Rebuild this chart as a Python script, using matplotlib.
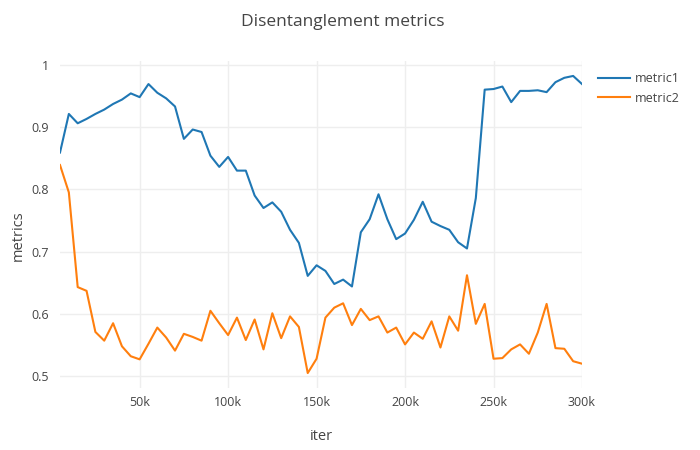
import matplotlib
matplotlib.use('Agg')
import matplotlib.pyplot as plt
from matplotlib.ticker import FuncFormatter

plt.rcParams['font.family'] = ['Open Sans', 'DejaVu Sans']

# iterations, 5k .. 300k
iters = [5000 * i for i in range(1, 61)]

metric1 = [0.859, 0.921, 0.906, 0.913, 0.921, 0.928, 0.937, 0.944, 0.954, 0.948,
           0.969, 0.955, 0.946, 0.933, 0.881, 0.896, 0.892, 0.854, 0.836, 0.852,
           0.830, 0.830, 0.790, 0.770, 0.779, 0.764, 0.735, 0.714, 0.661, 0.678,
           0.669, 0.648, 0.655, 0.644, 0.731, 0.752, 0.792, 0.752, 0.720, 0.729,
           0.751, 0.780, 0.748, 0.741, 0.735, 0.715, 0.705, 0.786, 0.960, 0.961,
           0.965, 0.940, 0.958, 0.958, 0.959, 0.956, 0.972, 0.979, 0.982, 0.969]

metric2 = [0.839, 0.795, 0.643, 0.637, 0.571, 0.557, 0.585, 0.548, 0.532, 0.527,
           0.552, 0.578, 0.562, 0.541, 0.568, 0.563, 0.557, 0.605, 0.585, 0.566,
           0.594, 0.558, 0.591, 0.543, 0.601, 0.561, 0.596, 0.579, 0.505, 0.528,
           0.594, 0.610, 0.617, 0.582, 0.608, 0.590, 0.596, 0.570, 0.578, 0.551,
           0.570, 0.560, 0.588, 0.546, 0.596, 0.573, 0.662, 0.584, 0.616, 0.528,
           0.529, 0.543, 0.551, 0.536, 0.570, 0.616, 0.545, 0.544, 0.524, 0.520]

x_ticks = [50000, 100000, 150000, 200000, 250000, 300000]
y_ticks = [0.5, 0.6, 0.7, 0.8, 0.9, 1.0]

fig = plt.figure(figsize=(7, 4.5), dpi=100)
ax = fig.add_axes([60 / 700, 62 / 450, 522 / 700, 327 / 450])

ax.plot(iters, metric1, color='#1f77b4', linewidth=1.5, label='metric1')
ax.plot(iters, metric2, color='#ff7f0e', linewidth=1.5, label='metric2')

ax.set_xlim(iters[0], iters[-1])
ax.set_ylim(0.481, 1.006)
ax.set_xticks(x_ticks)
ax.set_yticks(y_ticks)
ax.xaxis.set_major_formatter(FuncFormatter(lambda v, p: '%dk' % (v / 1000)))
ax.yaxis.set_major_formatter(FuncFormatter(lambda v, p: ('%g' % v)))

ax.grid(True, color='#eeeeee', linewidth=1)
ax.set_axisbelow(True)
for s in ax.spines.values():
    s.set_visible(False)
ax.tick_params(length=0, labelsize=9, labelcolor='#444444')
ax.tick_params(axis='x', pad=6)
ax.tick_params(axis='y', pad=8)

# axis titles placed like the original
fig.text(321 / 700, 1 - 437 / 450, 'iter', ha='center', va='center',
         fontsize=10.5, color='#444444')
fig.text(18 / 700, 1 - 236 / 450, 'metrics', ha='center', va='center',
         rotation=90, fontsize=10.5, color='#444444')

fig.text(343 / 700, 1 - 22 / 450, 'Disentanglement metrics', ha='center', va='center',
         fontsize=12.5, color='#444444')

leg = ax.legend(loc='upper left', bbox_to_anchor=(1.01, 1.0), frameon=False,
                fontsize=9, handlelength=2.5, handletextpad=0.4, labelspacing=0.5)
for t in leg.get_texts():
    t.set_color('#444444')

plt.savefig('out.png', dpi=100)
